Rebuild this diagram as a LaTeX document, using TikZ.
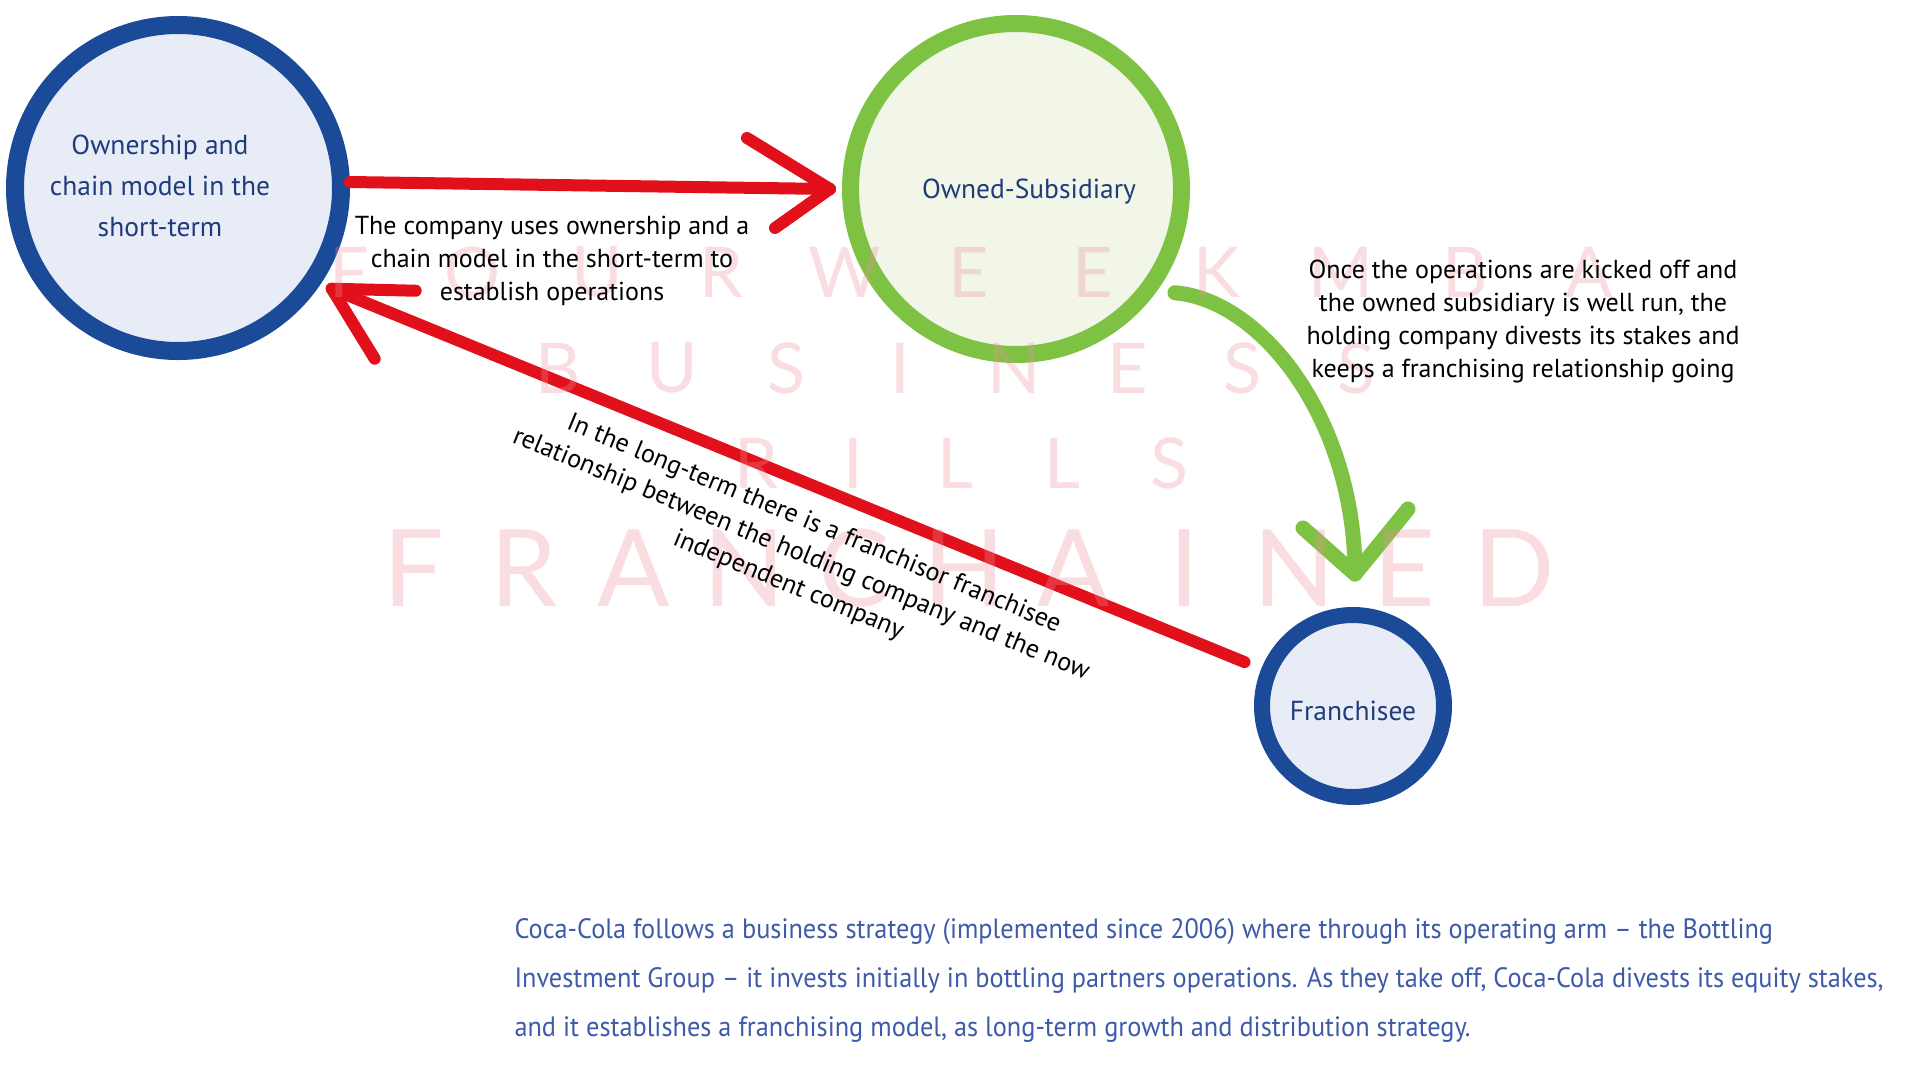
\documentclass[tikz,border=0pt]{standalone}
\usepackage{fontspec}
\usetikzlibrary{calc}
\setmainfont{PT Sans}
\newfontfamily\handfont{PT Sans}
\newfontfamily\bodyfont[FakeStretch=0.94]{PT Sans}
\newfontfamily\wmfont{Lato}
\definecolor{cblue}{HTML}{1B4A98}
\definecolor{lav}{HTML}{E8ECF7}
\definecolor{cgreen}{HTML}{7DC242}
\definecolor{lgreen}{HTML}{F2F6E9}
\definecolor{cred}{HTML}{E2101A}
\definecolor{navy}{HTML}{1F3C7A}
\definecolor{bodyblue}{HTML}{3E5BAA}
\definecolor{wmpink}{HTML}{EE8F99}
\tikzset{
  bluecirc/.style={circle, draw=cblue, fill=lav, inner sep=0pt},
  greencirc/.style={circle, draw=cgreen, fill=lgreen, inner sep=0pt},
  redline/.style={draw=cred, line width=12pt, line cap=round, line join=round},
  greenline/.style={draw=cgreen, line width=15pt, line cap=round, line join=round},
  circtext/.style={font=\handfont\fontsize{27.5}{41}\selectfont, text=navy, align=center},
  lbl/.style={font=\handfont\fontsize{26}{33}\selectfont, text=black, align=center},
  bodytxt/.style={font=\bodyfont\fontsize{28}{49}\selectfont, text=bodyblue, align=left, anchor=west},
  wm/.style={font=\wmfont\fontsize{70}{70}\selectfont, text=wmpink, text opacity=0.3},
  wmbig/.style={font=\wmfont\fontsize{107}{107}\selectfont, text=wmpink, text opacity=0.3},
}
\begin{document}
\begin{tikzpicture}[x=1pt,y=-1pt]
\useasboundingbox (0,0) rectangle (1920,1080);
\fill[white] (0,0) rectangle (1920,1080);

% circles
\node[bluecirc, line width=18pt, minimum size=326pt] (own) at (178,188) {};
\node[greencirc, line width=17pt, minimum size=331pt] (gs) at (1016,189) {};
\node[bluecirc, line width=16pt, minimum size=182pt] (fr) at (1353,706) {};

% red arrow: ownership -> subsidiary
\coordinate (tipA) at ($(gs.west)+(-12,0)$);
\draw[redline] (own.2) -- (tipA);
\draw[redline] ($(tipA)+(-83,-51)$) -- (tipA) -- ($(tipA)+(-55,39)$);

% red arrow: franchisee -> ownership
\coordinate (tipB) at ($(own.-34)!12pt!(fr.158)$);
\coordinate (startB) at ($(fr.158)!18pt!(own.-34)$);
\draw[redline] (startB) -- (tipB);
\draw[redline] ($(tipB)+(84,2)$) -- (tipB) -- ($(tipB)+(43,70)$);

% green arrow: subsidiary -> franchisee
\coordinate (tipC) at ($(fr.north)+(2,-33)$);
\coordinate (startC) at ($(gs.-33)+(13,9)$);
\draw[greenline] (startC) .. controls (1262,300) and (1355,420) .. (tipC);
\draw[greenline] ($(tipC)+(-52,-46)$) -- (tipC) -- ($(tipC)+(53,-65)$);

% watermark
\foreach \c [count=\i from 0] in {F,O,U,R,W,E,E,K,M,B,A}
  \node[wm] (wa\i) at (349+124*\i,272) {\c};
\foreach \c [count=\i from 0] in {B,U,S,I,N,E,S,S}
  \node[wm] (wb\i) at (558+114*\i,368) {\c};
\node[wm] (wc0) at (756,463) {R};
\node[wm] (wc1) at (853,463) {I};
\node[wm] (wc2) at (955,463) {L};
\node[wm] (wc3) at (1062,463) {L};
\node[wm] (wc4) at (1169,463) {S};
\foreach \c [count=\i from 0] in {F,R,A,N,C,H,A,I,N,E,D}
  \node[wmbig] (wd\i) at (414+110*\i,568) {\c};

% texts
\node[circtext] (t1) at (160,186) {Ownership and\\chain model in the\\short-term};
\node[circtext] (t2) at (1029,192) {Owned-Subsidiary};
\node[circtext] (t3) at (1353,711) {Franchisee};
\node[lbl] (l1) at (552,261) {The company uses ownership and a\\chain model in the short-term to\\establish operations};
\node[lbl] (l2) at (1523,321) {Once the operations are kicked off and\\the owned subsidiary is well run, the\\holding company divests its stakes and\\keeps a franchising relationship going};
\node[lbl, rotate=-22.5] (l3) at (801,555) {In the long-term there is a franchisor franchisee\\relationship between the holding company and the now\\independent company};
\node[bodytxt] (bt) at (511,980) {Coca-Cola follows a business strategy (implemented since 2006) where through its operating arm – the Bottling\\Investment Group – it invests initially in bottling partners operations. As they take off, Coca-Cola divests its equity stakes,\\and it establishes a franchising model, as long-term growth and distribution strategy.};
\end{tikzpicture}
\end{document}
